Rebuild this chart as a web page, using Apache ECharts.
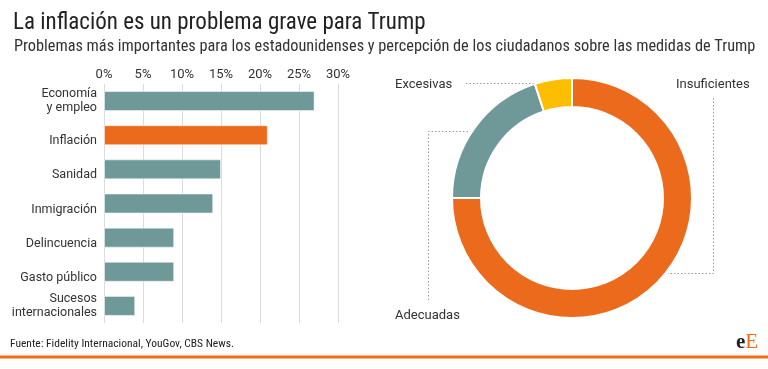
<!DOCTYPE html>
<html>
<head>
<meta charset="utf-8">
<script src="https://cdn.jsdelivr.net/npm/echarts@6/dist/echarts.min.js"></script>
<style>
html,body{margin:0;padding:0;background:#fff;}
#chart{width:768px;height:369px;}
</style>
</head>
<body>
<div id="chart"></div>
<script>
// ---- Data ----
const categories = ['Economía\ny empleo', 'Inflación', 'Sanidad', 'Inmigración', 'Delincuencia', 'Gasto público', 'Sucesos\ninternacionales'];
const shareValues = [27, 21, 15, 14, 9, 9, 4];
const highlightCategory = 'Inflación';
const xTicks = [0, 5, 10, 15, 20, 25, 30];

const perceptionNames = ['Insuficientes', 'Adecuadas', 'Excesivas'];
const perceptionValues = [75, 20, 5];

const TEAL = '#6f9999';
const ORANGE = '#eb6a1b';
const YELLOW = '#fdbe00';
const condensed = '"Liberation Sans Narrow", "Roboto Condensed", Roboto, sans-serif';
const regular = 'Roboto, "Noto Sans", sans-serif';

const chart = echarts.init(document.getElementById('chart'), null, {renderer: 'canvas'});

const barData = categories.map((c, i) => ({
  value: shareValues[i],
  itemStyle: {color: c === highlightCategory ? ORANGE : TEAL}
}));
const pieColors = [ORANGE, TEAL, YELLOW];
const pieData = perceptionNames.map((n, i) => ({name: n, value: perceptionValues[i], itemStyle: {color: pieColors[i]}}));

const labelPos = {
  'Insuficientes': {x: 676, y: 84.5, align: 'left'},
  'Adecuadas': {x: 395, y: 316, align: 'left'},
  'Excesivas': {x: 395, y: 84.5, align: 'left'}
};

const dotted = {stroke: '#999', lineWidth: 1, lineDash: [1.5, 2]};
const yLabelFont = {fontFamily: regular, fontSize: 12.5, color: '#333'};

const option = {
  animation: false,
  backgroundColor: '#fff',
  title: [
    {text: 'La inflación es un problema grave para Trump', left: 13, top: 12, padding: 0,
     textStyle: {fontFamily: condensed, fontSize: 23, fontWeight: 'normal', color: '#222'}},
    {text: 'Problemas más importantes para los estadounidenses y percepción de los ciudadanos sobre las medidas de Trump', left: 14, top: 39, padding: 0,
     textStyle: {fontFamily: condensed, fontSize: 16.3, fontWeight: 'normal', color: '#333'}},
    {text: 'Fuente: Fidelity Internacional, YouGov, CBS News.', left: 10, top: 338, padding: 0,
     textStyle: {fontFamily: condensed, fontSize: 11.5, fontWeight: 'normal', color: '#222'}}
  ],
  grid: {left: 104, right: 430, top: 84, bottom: 46},
  xAxis: {
    type: 'value', position: 'top', min: xTicks[0], max: xTicks[xTicks.length - 1], interval: 5,
    axisLine: {show: false}, axisTick: {show: false},
    axisLabel: {formatter: '{value}%', fontFamily: regular, fontSize: 13, color: '#333', margin: 3},
    splitLine: {lineStyle: {color: '#dcdcdc', width: 1}}
  },
  yAxis: {
    type: 'category', data: categories, inverse: true,
    axisLine: {show: false}, axisTick: {show: false},
    axisLabel: Object.assign({}, yLabelFont, {
      margin: 7, lineHeight: 14, align: 'right',
      formatter: v => v.indexOf('\n') >= 0 ? v : '{s|' + v + '}',
      rich: {s: Object.assign({}, yLabelFont, {padding: [12, 0, 0, 0], lineHeight: 14})}
    })
  },
  series: [
    {
      type: 'bar', data: barData, barWidth: 20,
      itemStyle: {borderColor: 'rgba(255,255,255,0.5)', borderWidth: 1}
    },
    {
      type: 'pie', center: [572, 198], radius: [91, 120], startAngle: 90, clockwise: true,
      data: pieData,
      itemStyle: {borderColor: '#fff', borderWidth: 2},
      label: {show: true, formatter: '{b}', fontFamily: regular, fontSize: 13, color: '#333', overflow: 'none'},
      labelLine: {show: false},
      labelLayout: function (p) {
        const pos = labelPos[perceptionNames[p.dataIndex]];
        return {x: pos.x, y: pos.y, align: pos.align, verticalAlign: 'middle', width: 120};
      }
    }
  ],
  graphic: [
    {type: 'polyline', silent: true, shape: {points: [[466, 83.5], [548, 83.5]]}, style: dotted},
    {type: 'polyline', silent: true, shape: {points: [[713.5, 98], [713.5, 273.5], [668, 273.5]]}, style: dotted},
    {type: 'polyline', silent: true, shape: {points: [[428.5, 300], [428.5, 131.5], [470, 131.5]]}, style: dotted},
    {type: 'rect', silent: true, shape: {x: 0, y: 355.5, width: 768, height: 3}, style: {fill: '#f46b16'}},
    {type: 'text', silent: true, left: 736, top: 332,
     style: {text: '{e|e}{E|E}', rich: {
       e: {fontFamily: '"Liberation Serif", "DejaVu Serif", serif', fontSize: 21, fontWeight: 'bold', fill: '#222'},
       E: {fontFamily: '"Liberation Serif", "DejaVu Serif", serif', fontSize: 21, fill: '#f46b16'}
     }}}
  ]
};
chart.setOption(option);
</script>
</body>
</html>
